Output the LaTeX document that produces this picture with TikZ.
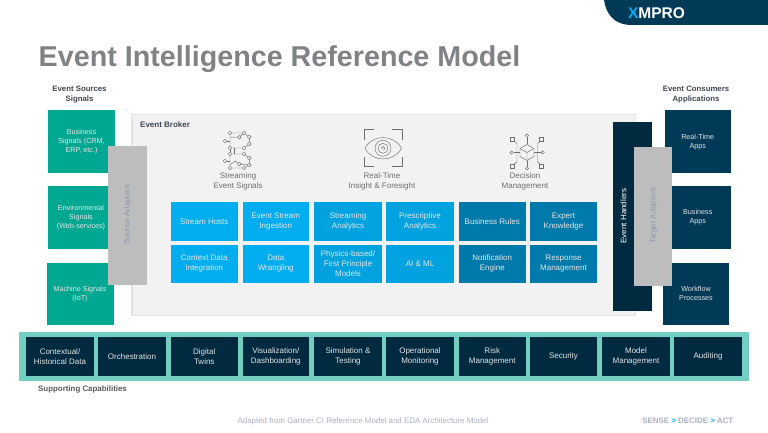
\documentclass[tikz,border=0pt]{standalone}
\usepackage{fontspec}
\setmainfont{Liberation Sans}
\usepackage{xcolor}
\usetikzlibrary{positioning}

\definecolor{titlegray}{HTML}{808285}
\definecolor{headgray}{HTML}{3F4654}
\definecolor{sourcegreen}{HTML}{00A891}
\definecolor{navy}{HTML}{003A56}
\definecolor{darknavy}{HTML}{002A40}
\definecolor{adaptergray}{HTML}{BDBDBD}
\definecolor{adaptertext}{HTML}{8E9AB0}
\definecolor{brokerfill}{HTML}{F2F2F2}
\definecolor{brokerline}{HTML}{E3E3E3}
\definecolor{bandgreen}{HTML}{72CEC0}
\definecolor{blueA}{HTML}{00AEEF}
\definecolor{blueB}{HTML}{00A3DF}
\definecolor{blueC}{HTML}{0079AB}
\definecolor{icongray}{HTML}{6D6E71}
\definecolor{footgray}{HTML}{A9AFC4}

\tikzset{
  box/.style={inner sep=0pt,align=center,font=\fontsize{7.2}{9}\selectfont,text=white!90!black},
  head/.style={inner sep=0pt,align=center,font=\bfseries\fontsize{7.8}{10}\selectfont,text=headgray},
  sub/.style={inner sep=0pt,align=center,font=\fontsize{8}{10}\selectfont,text=icongray},
  srcbox/.style={box,fill=sourcegreen,minimum width=67pt,minimum height=63pt},
  appbox/.style={box,fill=navy,minimum width=66.5pt,minimum height=63pt},
  capbox/.style={box,fill=darknavy,minimum height=38.5pt,font=\fontsize{8}{10}\selectfont},
  tile/.style={box,minimum height=38.5pt,font=\fontsize{8}{10}\selectfont},
  adapter/.style={box,fill=adaptergray,text=adaptertext,minimum width=38.5pt,minimum height=139.5pt},
  icon/.style={icongray,line width=0.45pt},
  dot/.style={icon,fill=brokerfill}
}

\begin{document}
\begin{tikzpicture}[x=1pt,y=-1pt]
  \useasboundingbox (0,0) rectangle (768,433);

  % logo tab and title
  \fill[navy] (604,0) .. controls (606,14) and (614,25) .. (632,25) -- (768,25) -- (768,0) -- cycle;
  \node[inner sep=0pt,text=white,font=\bfseries\fontsize{15.5}{16}\selectfont] (logo) at (656.5,13) {\textcolor{blueA}{X}MPRO};
  \node[inner sep=0pt,anchor=base west,text=titlegray,font=\bfseries\fontsize{28.7}{30}\selectfont] (title) at (38.5,67) {Event Intelligence Reference Model};

  % sources
  \node[head] (srchead) at (79.5,95) {Event Sources\\Signals};
  \node[srcbox] (business) at (81.5,141.75) {Business\\Signals (CRM,\\ERP, etc.)};
  \node[srcbox] (environ) at (81,217.5) {Environmental\\Signals\\(Web-services)};
  \node[srcbox,minimum height=61.5pt] (machine) at (80,293.75) {Machine Signals\\(IoT)};

  % broker panel
  \node[draw=brokerline,line width=1.2pt,fill=brokerfill,minimum width=503.5pt,minimum height=201pt] (broker) at (383.75,215) {};
  \node[head,anchor=base west,font=\bfseries\fontsize{8}{10}\selectfont] (brokerlab) at (140,128) {Event Broker};
  \node[adapter] (srcadapt) at (127.25,215.25) {};
  \node[rotate=90,text=adaptertext,inner sep=0pt,font=\fontsize{8}{8}\selectfont] (srclab) at (127.5,214.5) {Source Adapters};

  \node[sub] (streamlab) at (238,181.5) {Streaming\\Event Signals};
  \node[sub] (insightlab) at (382,181.5) {Real-Time\\Insight \& Foresight};
  \node[sub] (decisionlab) at (525,181.5) {Decision\\Management};

  % streaming icon
  \draw[icon] (230,133) -- (244,133) -- (249.3,137) -- (249.3,144) -- (244,148) -- (230,148) -- cycle;
  \draw[icon] (230,154) -- (244,154) -- (249.3,158) -- (249.3,165) -- (244,168) -- (230,168) -- cycle;
  \draw[icon] (230,148) -- (230,154) (234,148) -- (234,154) (225,141) -- (230,141) (225,161) -- (230,161);
  \draw[icon] (230,137) -- (239.3,137.3) -- (244,133) (230,165) -- (235,161) -- (239.3,164) -- (249.3,165);
  \foreach \x/\y in {230/133,244/133,249.3/137,239.3/137.3,225/141,249.3/144,244/148,230/148,230/154,244/154,249.3/158,225/161,239.3/164,249.3/165,244/168,230/168}{
    \draw[dot] (\x,\y) circle (1.9pt);
  }

  % eye icon
  \draw[icon] (374,129.5) -- (364,129.5) -- (364,140) (364,157) -- (364,166.5) -- (374,166.5);
  \draw[icon] (392,129.5) -- (402.5,129.5) -- (402.5,140) (402.5,157) -- (402.5,166.5) -- (392,166.5);
  \draw[icon] (365,148.3) .. controls (372,134) and (394,134) .. (401.5,148.3) .. controls (394,162.5) and (372,162.5) .. (365,148.3) -- cycle;
  \draw[icon] (383,148.3) circle (8pt) (383,148.3) circle (5pt);
  \draw[icon] (381,148.5) -- (383,146.5) -- (385,148.5) -- (383,150.3);

  % decision icon
  \draw[icon] (527,144.5) -- (534,148.5) -- (534,156.5) -- (527,160.5) -- (520,156.5) -- (520,148.5) -- cycle;
  \draw[icon] (520,148.5) -- (527,152.5) -- (534,148.5) (527,152.5) -- (527,160.5);
  \draw[icon] (527,137.5) -- (527,144.5) (527,160.5) -- (527,166.5) (513.5,152.5) -- (520,152.5) (534,152.5) -- (541,152.5);
  \draw[icon] (514,141) -- (517,143.5) -- (517,161.5) -- (514,164.5) (540.5,141) -- (537.5,143.5) -- (537.5,161.5) -- (540.5,164.5);
  \foreach \x/\y in {527/135.7,527/168.3,511.7/152.5,542.7/152.5}{
    \draw[dot] (\x,\y) circle (1.7pt);
  }
  \foreach \x/\y in {512.3/139.3,541.7/139.3,512.3/166,541.7/166}{
    \draw[dot] (\x-2,\y-2) rectangle (\x+2,\y+2);
  }

  % broker tiles
  \foreach \name/\x/\w/\y/\col/\lab in {
    hosts/204.25/66.5/221.5/blueA/{Stream Hosts},
    ingest/275.75/66.5/221.5/blueA/{Event Stream\\Ingestion},
    analytics/348/68/221.5/blueB/{Streaming\\Analytics},
    prescribe/420/68/221.5/blueB/{Prescriptive\\Analytics},
    rules/492.25/66.5/221.5/blueC/{Business Rules},
    expert/563.5/67/221.5/blueC/{Expert\\Knowledge},
    context/204.25/66.5/263.75/blueA/{Context Data\\Integration},
    wrangle/275.75/66.5/263.75/blueA/{Data\\Wrangling},
    physics/348/68/263.75/blueB/{Physics-based/\\First Principle\\Models},
    aiml/420/68/263.75/blueB/{AI \& ML},
    notify/492.25/66.5/263.75/blueC/{Notification\\Engine},
    response/563.5/67/263.75/blueC/{Response\\Management}}{
    \node[tile,fill=\col,minimum width=\w pt] (\name) at (\x,\y) {\lab};
  }

  % consumers
  \node[head] (apphead) at (696,95) {Event Consumers\\Applications};
  \node[appbox] (realtime) at (697.75,141.75) {Real-Time\\Apps};
  \node[appbox] (bizapps) at (697.75,217.5) {\hspace*{0pt}Business\\Apps};
  \node[appbox,minimum height=61.5pt] (workflow) at (696,293.75) {Workflow\\Processes};
  \node[fill=darknavy,inner sep=0pt,minimum width=38.5pt,minimum height=188pt] (handlers) at (632.25,216.5) {};
  \node[rotate=90,text=white,inner sep=0pt,font=\fontsize{8}{8}\selectfont] (handlerlab) at (623.5,216) {Event Handlers};
  \node[adapter] (tgtadapt) at (653,216.25) {};
  \node[rotate=90,text=adaptertext,inner sep=0pt,font=\fontsize{8}{8}\selectfont] (tgtlab) at (653.5,215.5) {Target Adapters};

  % supporting capabilities
  \node[fill=bandgreen,minimum width=730pt,minimum height=49pt,inner sep=0pt] (band) at (384,356.5) {};
  \foreach \name/\x/\w/\lab in {
    histdata/60/68/{Contextual/\\Historical Data},
    orchestr/132/68/{Orchestration},
    twins/204.25/66.5/{Digital\\Twins},
    dashboard/275.75/66.5/{Visualization/\\Dashboarding},
    simul/348/68/{Simulation \&\\Testing},
    opsmon/420/68/{Operational\\Monitoring},
    risk/492.25/66.5/{Risk\\Management},
    security/563.5/67/{Security},
    modelmgt/636/68/{Model\\Management},
    audit/708/68/{Auditing}}{
    \node[capbox,minimum width=\w pt] (\name) at (\x,356.25) {\lab};
  }
  \node[head,anchor=base west,text=black!65,font=\bfseries\fontsize{7.9}{10}\selectfont] (suplab) at (38,391.5) {Supporting Capabilities};

  % footer
  \node[inner sep=0pt,anchor=base,text=footgray,font=\fontsize{7.9}{8}\selectfont] (adapted) at (363,423.5) {Adapted from Gartner CI Reference Model and EDA Architecture Model};
  \node[inner sep=0pt,anchor=base east,text=footgray,font=\bfseries\fontsize{7.9}{8}\selectfont] (motto) at (733.5,423.5) {SENSE \textcolor{blueA}{>} DECIDE \textcolor{blueA}{>} ACT};
\end{tikzpicture}
\end{document}
